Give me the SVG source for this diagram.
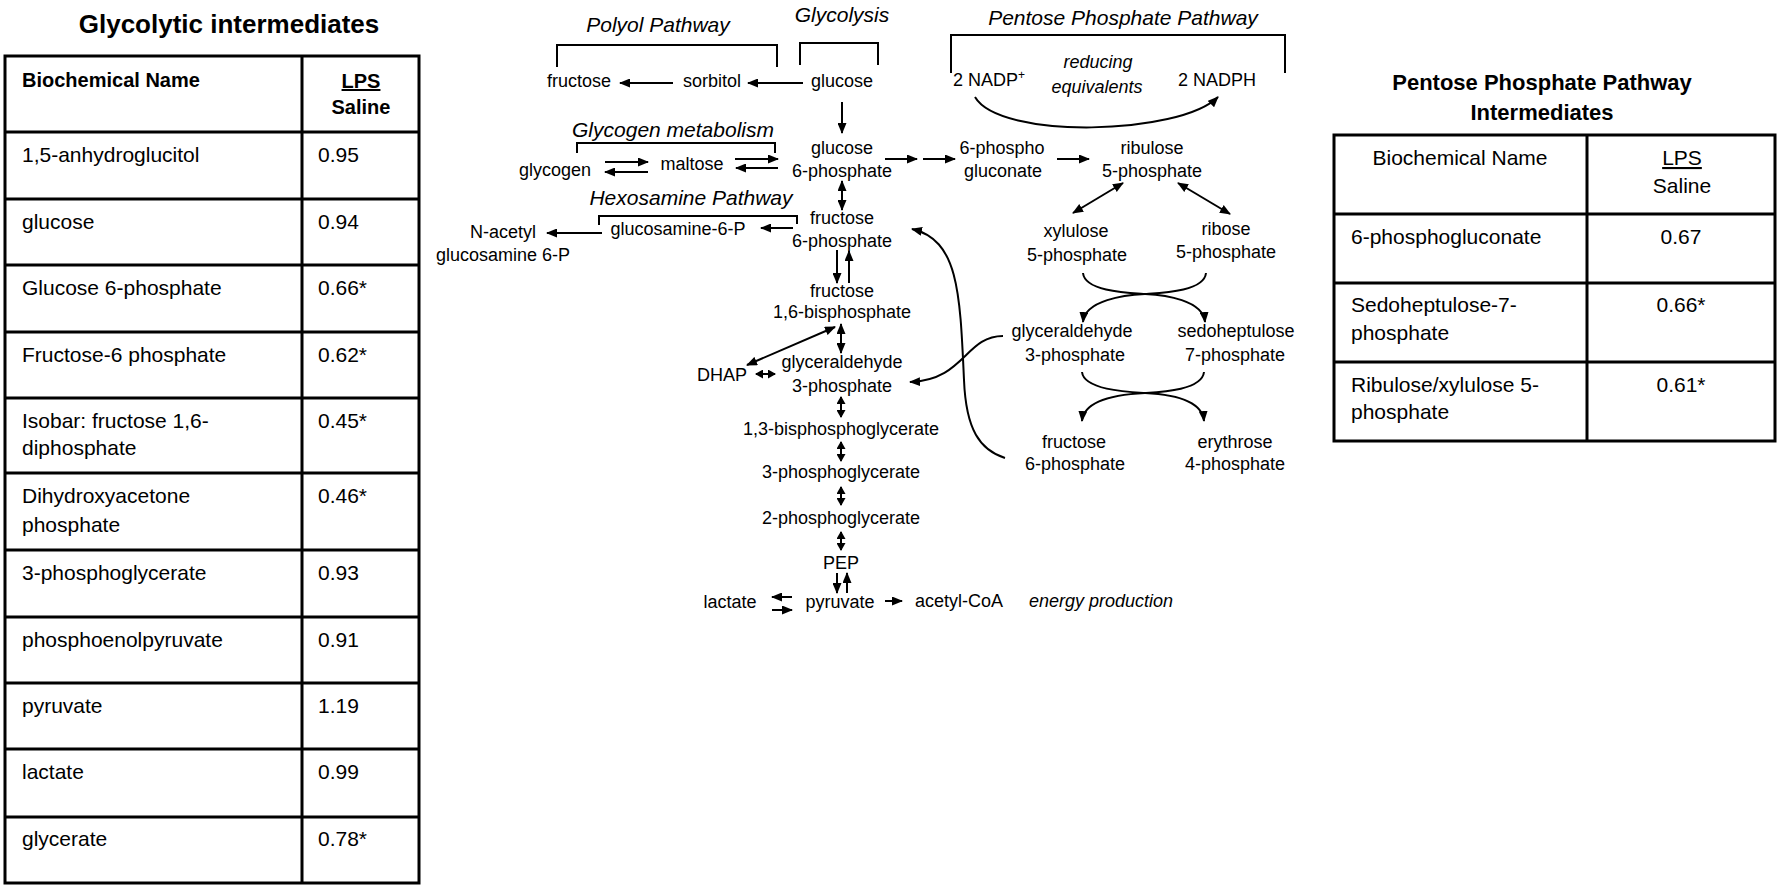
<svg xmlns="http://www.w3.org/2000/svg" width="1783" height="891" viewBox="0 0 1783 891">
<style>
text{font-family:"Liberation Sans",Arial,sans-serif;fill:#000}
.t{font-size:21px}
.tb{font-size:20px;font-weight:bold}
.ttl{font-weight:bold}
.n{font-size:18px;text-anchor:middle}
.nl{font-size:18px}
.it{font-size:21px;font-style:italic;text-anchor:middle}
.is{font-size:18px;font-style:italic}
.c{text-anchor:middle}
.grid{fill:none;stroke:#000;stroke-width:3}
.br{fill:none;stroke:#000;stroke-width:2}
.ar{fill:none;stroke:#000;stroke-width:2;marker-end:url(#ah)}
.ar2{fill:none;stroke:#000;stroke-width:2;marker-end:url(#ah);marker-start:url(#ah)}
.sm2{fill:none;stroke:#000;stroke-width:2;marker-end:url(#as);marker-start:url(#as)}
</style>
<defs>
<marker id="ah" markerWidth="11" markerHeight="9" refX="10" refY="4.5" orient="auto-start-reverse" markerUnits="userSpaceOnUse"><path d="M0,0 L11,4.5 L0,9 z" fill="#000"/></marker>
<marker id="as" markerWidth="8" markerHeight="9" refX="7" refY="4.5" orient="auto-start-reverse" markerUnits="userSpaceOnUse"><path d="M0,0 L8,4.5 L0,9 z" fill="#000"/></marker>
</defs>

<g id="glycolytic-table">
<text class="ttl c" x="229" y="33" font-size="26">Glycolytic intermediates</text>
<rect class="grid" x="5" y="56" width="414" height="827"/>
<path class="grid" d="M302,56 V883 M5,132 H419 M5,199 H419 M5,265 H419 M5,332 H419 M5,398 H419 M5,473 H419 M5,550 H419 M5,617 H419 M5,683 H419 M5,749 H419 M5,817 H419"/>
<text class="tb" x="22" y="87">Biochemical Name</text>
<text class="tb c" x="361" y="88" text-decoration="underline">LPS</text>
<text class="tb c" x="361" y="114">Saline</text>
<text class="t" x="22" y="162">1,5-anhydroglucitol</text><text class="t" x="318" y="162">0.95</text>
<text class="t" x="22" y="229">glucose</text><text class="t" x="318" y="229">0.94</text>
<text class="t" x="22" y="295">Glucose 6-phosphate</text><text class="t" x="318" y="295">0.66*</text>
<text class="t" x="22" y="362">Fructose-6 phosphate</text><text class="t" x="318" y="362">0.62*</text>
<text class="t" x="22" y="428">Isobar: fructose 1,6-</text><text class="t" x="22" y="455">diphosphate</text><text class="t" x="318" y="428">0.45*</text>
<text class="t" x="22" y="503">Dihydroxyacetone</text><text class="t" x="22" y="532">phosphate</text><text class="t" x="318" y="503">0.46*</text>
<text class="t" x="22" y="580">3-phosphoglycerate</text><text class="t" x="318" y="580">0.93</text>
<text class="t" x="22" y="647">phosphoenolpyruvate</text><text class="t" x="318" y="647">0.91</text>
<text class="t" x="22" y="713">pyruvate</text><text class="t" x="318" y="713">1.19</text>
<text class="t" x="22" y="779">lactate</text><text class="t" x="318" y="779">0.99</text>
<text class="t" x="22" y="846">glycerate</text><text class="t" x="318" y="846">0.78*</text>
</g>

<g id="ppp-table">
<text class="ttl c" x="1542" y="90" font-size="22">Pentose Phosphate Pathway</text>
<text class="ttl c" x="1542" y="120" font-size="22">Intermediates</text>
<rect class="grid" x="1334" y="135" width="441" height="306"/>
<path class="grid" d="M1587,135 V441 M1334,214 H1775 M1334,283 H1775 M1334,362 H1775"/>
<text class="t c" x="1460" y="165">Biochemical Name</text>
<text class="t c" x="1682" y="165" text-decoration="underline">LPS</text>
<text class="t c" x="1682" y="193">Saline</text>
<text class="t" x="1351" y="244">6-phosphogluconate</text><text class="t c" x="1681" y="244">0.67</text>
<text class="t" x="1351" y="312">Sedoheptulose-7-</text><text class="t" x="1351" y="340">phosphate</text><text class="t c" x="1681" y="312">0.66*</text>
<text class="t" x="1351" y="392">Ribulose/xylulose 5-</text><text class="t" x="1351" y="419">phosphate</text><text class="t c" x="1681" y="392">0.61*</text>
</g>

<g id="pathway-labels">
<text class="it" x="658" y="32">Polyol Pathway</text>
<path class="br" d="M557,67 V45 H777 V67"/>
<text class="it" x="842" y="22">Glycolysis</text>
<path class="br" d="M800,65 V43 H878 V65"/>
<text class="it" x="673" y="137">Glycogen metabolism</text>
<path class="br" d="M577,153 V143 H775 V153"/>
<text class="it" x="691" y="205">Hexosamine Pathway</text>
<path class="br" d="M599,225 V216 H797 V224"/>
<text class="it" x="1123" y="25">Pentose Phosphate Pathway</text>
<path class="br" d="M951,73 V35 H1285 V73"/>
<text class="is" x="1098" y="68" text-anchor="middle">reducing</text>
<text class="is" x="1097" y="93" text-anchor="middle">equivalents</text>
<text class="is" x="1029" y="607">energy production</text>
</g>

<g id="n-fructose"><text class="n" x="579" y="87">fructose</text></g>
<g id="n-sorbitol"><text class="n" x="712" y="87">sorbitol</text></g>
<g id="n-glucose"><text class="n" x="842" y="87">glucose</text></g>
<g id="n-glycogen"><text class="n" x="555" y="176">glycogen</text></g>
<g id="n-maltose"><text class="n" x="692" y="170">maltose</text></g>
<g id="n-g6p"><text class="n" x="842" y="154">glucose</text><text class="n" x="842" y="177">6-phosphate</text></g>
<g id="n-6pg"><text class="n" x="1002" y="154">6-phospho</text><text class="n" x="1003" y="177">gluconate</text></g>
<g id="n-ru5p"><text class="n" x="1152" y="154">ribulose</text><text class="n" x="1152" y="177">5-phosphate</text></g>
<g id="n-nacetyl"><text class="n" x="503" y="238">N-acetyl</text><text class="n" x="503" y="261">glucosamine 6-P</text></g>
<g id="n-glucosamine"><text class="n" x="678" y="235">glucosamine-6-P</text></g>
<g id="n-f6p"><text class="n" x="842" y="224">fructose</text><text class="n" x="842" y="247">6-phosphate</text></g>
<g id="n-xu5p"><text class="n" x="1076" y="237">xylulose</text><text class="n" x="1077" y="261">5-phosphate</text></g>
<g id="n-r5p"><text class="n" x="1226" y="235">ribose</text><text class="n" x="1226" y="258">5-phosphate</text></g>
<g id="n-f16bp"><text class="n" x="842" y="297">fructose</text><text class="n" x="842" y="318">1,6-bisphosphate</text></g>
<g id="n-dhap"><text class="n" x="722" y="381">DHAP</text></g>
<g id="n-gap"><text class="n" x="842" y="368">glyceraldehyde</text><text class="n" x="842" y="392">3-phosphate</text></g>
<g id="n-gap2"><text class="n" x="1072" y="337">glyceraldehyde</text><text class="n" x="1075" y="361">3-phosphate</text></g>
<g id="n-s7p"><text class="n" x="1236" y="337">sedoheptulose</text><text class="n" x="1235" y="361">7-phosphate</text></g>
<g id="n-13bpg"><text class="n" x="841" y="435">1,3-bisphosphoglycerate</text></g>
<g id="n-3pg"><text class="n" x="841" y="478">3-phosphoglycerate</text></g>
<g id="n-2pg"><text class="n" x="841" y="524">2-phosphoglycerate</text></g>
<g id="n-f6p2"><text class="n" x="1074" y="448">fructose</text><text class="n" x="1075" y="470">6-phosphate</text></g>
<g id="n-e4p"><text class="n" x="1235" y="448">erythrose</text><text class="n" x="1235" y="470">4-phosphate</text></g>
<g id="n-pep"><text class="n" x="841" y="569">PEP</text></g>
<g id="n-lactate"><text class="n" x="730" y="608">lactate</text></g>
<g id="n-pyruvate"><text class="n" x="840" y="608">pyruvate</text></g>
<g id="n-acetylcoa"><text class="n" x="959" y="607">acetyl-CoA</text></g>
<g id="n-nadp"><text class="nl" x="953" y="86">2 NADP<tspan dy="-7" font-size="12">+</tspan></text></g>
<g id="n-nadph"><text class="nl" x="1178" y="86">2 NADPH</text></g>

<g id="connectors">
<path class="ar" d="M803,83 H748"/>
<path class="ar" d="M673,83 H620"/>
<path class="ar" d="M842,102 V133"/>
<path class="ar" d="M605,162 H648"/>
<path class="ar" d="M648,172 H605"/>
<path class="ar" d="M735,159 H778"/>
<path class="ar" d="M778,168 H736"/>
<path class="ar2" d="M842,181 V210"/>
<path class="ar" d="M793,228 H761"/>
<path class="ar" d="M602,233 H547"/>
<path class="ar" d="M837,250 V283"/>
<path class="ar" d="M849,283 V251"/>
<path class="ar2" d="M841,324 V353"/>
<path class="ar2" d="M835,327 L747,365"/>
<path class="sm2" d="M756,374 H775"/>
<path class="sm2" d="M841,397 V417"/>
<path class="sm2" d="M841,442 V461"/>
<path class="sm2" d="M841,487 V505"/>
<path class="sm2" d="M841,532 V550"/>
<path class="ar" d="M837,573 V593"/>
<path class="ar" d="M847,593 V573"/>
<path class="ar" d="M792,597 H772"/>
<path class="ar" d="M772,610 H792"/>
<path class="ar" d="M885,601 H902"/>
<path class="ar" d="M885,159 H917"/>
<path class="ar" d="M923,159 H955"/>
<path class="ar" d="M1057,159 H1089"/>
<path class="ar" d="M975,97 C1000,140 1180,135 1218,97"/>
<path class="ar2" d="M1123,183 L1073,213"/>
<path class="ar2" d="M1178,183 L1230,214"/>
<path class="ar" d="M1083,273 C1085,292 1130,293 1145,294 C1165,295 1203,300 1205,322"/>
<path class="ar" d="M1206,273 C1204,292 1160,293 1145,294 C1125,295 1085,300 1083,322"/>
<path class="ar" d="M1082,372 C1084,390 1128,392 1145,393 C1165,394 1202,398 1204,421"/>
<path class="ar" d="M1204,372 C1202,390 1162,392 1145,393 C1125,394 1084,398 1082,421"/>
<path class="ar" d="M1003,336 C965,336 965,380 910,382"/>
<path class="ar" d="M1005,458 C980,450 966,430 964,380 C960,290 958,240 912,229"/>
</g>
</svg>
